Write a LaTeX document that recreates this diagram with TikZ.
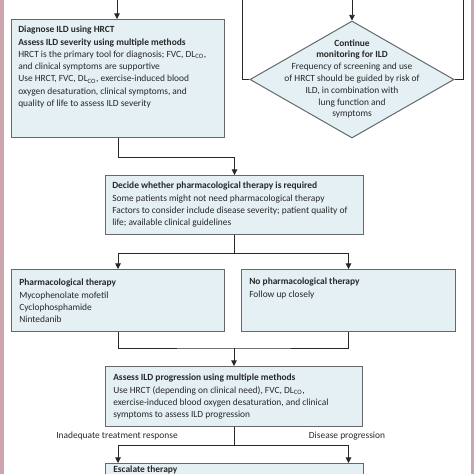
\documentclass[tikz,border=0pt]{standalone}
\usepackage{fontspec}
\setmainfont{Carlito}
\usetikzlibrary{arrows.meta,shapes.geometric,positioning}

\definecolor{boxfill}{RGB}{228,240,244}
\definecolor{boxline}{RGB}{100,104,108}
\definecolor{pinkbar}{RGB}{204,166,174}
\definecolor{inkgray}{RGB}{40,40,40}

\tikzset{
	box/.style={draw=boxline, fill=boxfill, line width=.7pt, inner sep=0pt, anchor=north west},
	boxtxt/.style={anchor=north west, align=left, inner sep=0pt, text=inkgray, font=\fontsize{6.7}{8.7}\selectfont},
	armlabel/.style={inner sep=0pt, text=inkgray, font=\fontsize{6.7}{8.7}\selectfont},
	link/.style={draw=inkgray, line width=.6pt},
	tip/.style={link, -{Triangle[length=4pt,width=4pt]}},
}

\begin{document}
\begin{tikzpicture}[x=.025cm, y=-.025cm]
	\useasboundingbox (0,0) rectangle (474,474);
	\clip (0,0) rectangle (474,474);
	\fill[pinkbar] (0,0) rectangle (4,474);
	\fill[pinkbar] (470.5,0) rectangle (474,474);
	
	% boxes
	\node[box, minimum width=5.325cm, minimum height=2.95cm] (diag) at (11,19) {};
	\node[box, diamond, anchor=center, minimum width=5.1cm, minimum height=2.925cm] (monitor) at (352,79.5) {};
	\node[box, minimum width=6.45cm, minimum height=1.475cm] (decide) at (105,175) {};
	\node[box, minimum width=5.325cm, minimum height=1.55cm] (pharma) at (11,269) {};
	\node[box, minimum width=5.35cm, minimum height=1.55cm] (nopharma) at (241,269) {};
	\node[box, minimum width=6.425cm, minimum height=1.5cm] (assess) at (105,366) {};
	\node[box, minimum width=6.45cm, minimum height=1.5cm] (escalate) at (105,463) {};
	
	% texts
	\node[boxtxt] (diagtxt) at (18,26) {\textbf{Diagnose ILD using HRCT}\\
		\textbf{Assess ILD severity using multiple methods}\\
		HRCT is the primary tool for diagnosis; FVC, DL\textsubscript{CO},\\
		and clinical symptoms are supportive\\
		Use HRCT, FVC, DL\textsubscript{CO}, exercise-induced blood\\
		oxygen desaturation, clinical symptoms, and\\
		quality of life to assess ILD severity};
	\node[boxtxt, anchor=center, align=center, font=\fontsize{6.7}{8.4}\selectfont] (monitortxt) at (352,79) {\textbf{Continue}\\
		\textbf{monitoring for ILD}\\
		Frequency of screening and use\\
		of HRCT should be guided by risk of\\
		ILD, in combination with\\
		lung function and\\
		symptoms};
	\node[boxtxt] (decidetxt) at (112,182) {\textbf{Decide whether pharmacological therapy is required}\\
		Some patients might not need pharmacological therapy\\
		Factors to consider include disease severity; patient quality of\\
		life; available clinical guidelines};
	\node[boxtxt] (pharmatxt) at (19,279) {\textbf{Pharmacological therapy}\\
		Mycophenolate mofetil\\
		Cyclophosphamide\\
		Nintedanib};
	\node[boxtxt] (nopharmatxt) at (249,278) {\textbf{No pharmacological therapy}\\
		Follow up closely};
	\node[boxtxt] (assesstxt) at (113,374) {\textbf{Assess ILD progression using multiple methods}\\
		Use HRCT (depending on clinical need), FVC, DL\textsubscript{CO},\\
		exercise-induced blood oxygen desaturation, and clinical\\
		symptoms to assess ILD progression};
	\node[boxtxt] (escalatetxt) at (113,466) {\textbf{Escalate therapy}};
	
	% connectors
	\coordinate (inL) at (117,0);
	\coordinate (inR) at (352,0);
	\coordinate (loopL) at (242,0);
	\coordinate (loopR) at (463,0);
	\draw[tip] (inL) -- (inL |- diag.north);
	\draw[tip] (inR) -- (monitor.north);
	\draw[link] (loopL) |- (monitor.west);
	\draw[link] (loopR) |- (monitor.east);
	\draw[tip] (diag.south) -- ++(0,19) -| (decide.north);
	\draw[link] (decide.south) -- ++(0,18) coordinate (split1);
	\draw[tip] (split1) -| (pharma.north);
	\draw[tip] (split1) -| (nopharma.north);
	\coordinate (join) at (234,348);
	\draw[link] (pharma.south) |- (join) -| (nopharma.south);
	\draw[tip] (join) -- (join |- assess.north);
	\draw[link] (assess.south) -- ++(0,18) coordinate (split2);
	\draw[tip] (split2) -| (pharma.south |- escalate.north);
	\draw[tip] (split2) -| (nopharma.south |- escalate.north);
	\node[armlabel] (lblL) at (117,436) {Inadequate treatment response};
	\node[armlabel] (lblR) at (347,436) {Disease progression};
\end{tikzpicture}
\end{document}
